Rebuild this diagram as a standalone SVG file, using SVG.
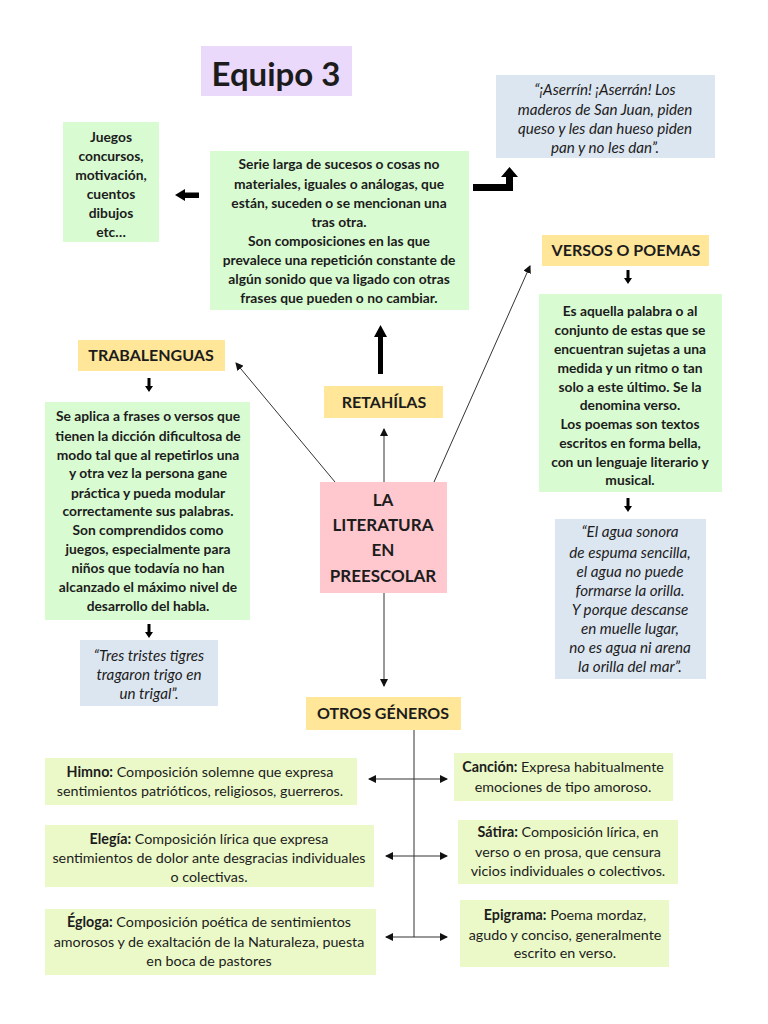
<svg xmlns="http://www.w3.org/2000/svg" width="768" height="1024" viewBox="0 0 768 1024">
<defs>
<style>
text{font-family:Lato,"Open Sans","Liberation Sans",sans-serif;fill:#1c1c1c;text-anchor:middle}
.b{font-size:13.8px;font-weight:bold}
.i{font-size:15.2px;font-style:italic}
.h{font-size:16px;font-weight:bold}
.r{font-size:14.3px}
.g{fill:#d9fbd2}
.y{fill:#ffe699}
.q{fill:#dce6f1}
.lg{fill:#ebf9c9}
.ln{stroke:#333;stroke-width:1;fill:none}
.blk{fill:#000}
</style>
<marker id="ah" markerWidth="8" markerHeight="8" refX="7" refY="4" orient="auto" markerUnits="userSpaceOnUse">
<path d="M0,0 L8,4 L0,8 z" fill="#111"/>
</marker>
<marker id="as" markerWidth="8" markerHeight="8" refX="1" refY="4" orient="auto" markerUnits="userSpaceOnUse">
<path d="M8,0 L0,4 L8,8 z" fill="#111"/>
</marker>
</defs>
<rect width="768" height="1024" fill="#fff"/>

<g id="connectors">
<line class="ln" x1="384" y1="482" x2="384" y2="429" marker-end="url(#ah)"/>
<line class="ln" x1="335" y1="482" x2="236" y2="363" marker-end="url(#ah)"/>
<line class="ln" x1="434" y1="482" x2="530" y2="266" marker-end="url(#ah)"/>
<line class="ln" x1="384" y1="593" x2="384" y2="686" marker-end="url(#ah)"/>
<line class="ln" x1="414" y1="730" x2="414" y2="937"/>
<line class="ln" x1="369" y1="779" x2="447" y2="779" marker-start="url(#as)" marker-end="url(#ah)"/>
<line class="ln" x1="386" y1="856" x2="447" y2="856" marker-start="url(#as)" marker-end="url(#ah)"/>
<line class="ln" x1="386" y1="937" x2="447" y2="937" marker-start="url(#as)" marker-end="url(#ah)"/>
<polygon class="blk" points="175,195 185,189 185,192.5 199,192.5 199,198 185,198 185,201"/>
<polygon class="blk" points="378,374 378,337 374,337 380.5,325 387,337 383,337 383,374"/>
<polygon class="blk" points="473,184 506,184 506,177 501,177 509.5,167 518,177 513,177 513,191 473,191"/>
<polygon class="blk" points="147.5,378 150.5,378 150.5,386 153,386 149,392 145,386 147.5,386"/>
<polygon class="blk" points="626.5,270 629.5,270 629.5,278 632,278 628,284 624,278 626.5,278"/>
<polygon class="blk" points="626.5,498 629.5,498 629.5,506 632,506 628,512 624,506 626.5,506"/>
<polygon class="blk" points="147.5,624 150.5,624 150.5,632 153,632 149,638 145,632 147.5,632"/>
</g>

<g id="equipo">
<rect x="201" y="46" width="151" height="50" fill="#ead9fb"/>
<text x="276" y="86" style="font-size:33px;font-weight:bold">Equipo 3</text>
</g>

<g id="aserrin">
<rect class="q" x="496" y="75" width="219" height="83"/>
<text class="i" x="605" y="95">“¡Aserrín! ¡Aserrán! Los</text>
<text class="i" x="605" y="115">maderos de San Juan, piden</text>
<text class="i" x="605" y="134">queso y les dan hueso piden</text>
<text class="i" x="605" y="153">pan y no les dan”.</text>
</g>

<g id="juegos">
<rect class="g" x="63" y="122" width="96" height="120"/>
<text class="b" x="111" y="142">Juegos</text>
<text class="b" x="111" y="161">concursos,</text>
<text class="b" x="111" y="180">motivación,</text>
<text class="b" x="111" y="199">cuentos</text>
<text class="b" x="111" y="218">dibujos</text>
<text class="b" x="111" y="237">etc…</text>
</g>

<g id="retahilas-def">
<rect class="g" x="210" y="151" width="259" height="159"/>
<text class="b" x="339" y="169">Serie larga de sucesos o cosas no</text>
<text class="b" x="339" y="189">materiales, iguales o análogas, que</text>
<text class="b" x="339" y="208">están, suceden o se mencionan una</text>
<text class="b" x="339" y="227">tras otra.</text>
<text class="b" x="339" y="246">Son composiciones en las que</text>
<text class="b" x="339" y="265">prevalece una repetición constante de</text>
<text class="b" x="339" y="284">algún sonido que va ligado con otras</text>
<text class="b" x="339" y="303">frases que pueden o no cambiar.</text>
</g>

<g id="versos">
<rect class="y" x="542" y="235" width="167" height="31"/>
<text class="h" x="626" y="256">VERSOS O POEMAS</text>
</g>

<g id="versos-def">
<rect class="g" x="539" y="294" width="183" height="198"/>
<text class="b" x="630" y="316">Es aquella palabra o al</text>
<text class="b" x="630" y="335">conjunto de estas que se</text>
<text class="b" x="630" y="354">encuentran sujetas a una</text>
<text class="b" x="630" y="373">medida y un ritmo o tan</text>
<text class="b" x="630" y="392">solo a este último. Se la</text>
<text class="b" x="630" y="410">denomina verso.</text>
<text class="b" x="630" y="429">Los poemas son textos</text>
<text class="b" x="630" y="448">escritos en forma bella,</text>
<text class="b" x="630" y="467">con un lenguaje literario y</text>
<text class="b" x="630" y="485">musical.</text>
</g>

<g id="poema">
<rect class="q" x="555" y="519" width="151" height="160"/>
<text class="i" x="630" y="537">“El agua sonora</text>
<text class="i" x="630" y="558">de espuma sencilla,</text>
<text class="i" x="630" y="577">el agua no puede</text>
<text class="i" x="630" y="596">formarse la orilla.</text>
<text class="i" x="630" y="615">Y porque descanse</text>
<text class="i" x="630" y="634">en muelle lugar,</text>
<text class="i" x="630" y="653">no es agua ni arena</text>
<text class="i" x="630" y="672">la orilla del mar”.</text>
</g>

<g id="trabalenguas">
<rect class="y" x="78" y="340" width="147" height="31"/>
<text class="h" x="151" y="361">TRABALENGUAS</text>
</g>

<g id="trabalenguas-def">
<rect class="g" x="45" y="402" width="205" height="218"/>
<text class="b" x="148" y="421">Se aplica a frases o versos que</text>
<text class="b" x="148" y="441">tienen la dicción dificultosa de</text>
<text class="b" x="148" y="460">modo tal que al repetirlos una</text>
<text class="b" x="148" y="478">y otra vez la persona gane</text>
<text class="b" x="148" y="498">práctica y pueda modular</text>
<text class="b" x="148" y="516">correctamente sus palabras.</text>
<text class="b" x="148" y="535">Son comprendidos como</text>
<text class="b" x="148" y="554">juegos, especialmente para</text>
<text class="b" x="148" y="573">niños que todavía no han</text>
<text class="b" x="148" y="592">alcanzado el máximo nivel de</text>
<text class="b" x="148" y="611">desarrollo del habla.</text>
</g>

<g id="tigres">
<rect class="q" x="80" y="640" width="138" height="66"/>
<text class="i" x="149" y="661">“Tres tristes tigres</text>
<text class="i" x="149" y="680">tragaron trigo en</text>
<text class="i" x="149" y="699">un trigal”.</text>
</g>

<g id="retahilas">
<rect class="y" x="324" y="386" width="119" height="32"/>
<text class="h" x="384" y="408">RETAHÍLAS</text>
</g>

<g id="centro">
<rect x="320" y="482" width="127" height="111" fill="#ffc7ce"/>
<text x="383" y="506" style="font-size:17px;font-weight:bold">LA</text>
<text x="383" y="531" style="font-size:17px;font-weight:bold">LITERATURA</text>
<text x="383" y="556" style="font-size:17px;font-weight:bold">EN</text>
<text x="383" y="582" style="font-size:17px;font-weight:bold">PREESCOLAR</text>
</g>

<g id="otros">
<rect class="y" x="306" y="697" width="155" height="33"/>
<text class="h" x="383" y="719">OTROS GÉNEROS</text>
</g>

<g id="himno">
<rect class="lg" x="45" y="758" width="312" height="47"/>
<text class="r" x="200" y="777"><tspan font-weight="bold">Himno:</tspan> Composición solemne que expresa</text>
<text class="r" x="200" y="796">sentimientos patrióticos, religiosos, guerreros.</text>
</g>

<g id="cancion">
<rect class="lg" x="454" y="753" width="219" height="48"/>
<text class="r" x="563" y="772"><tspan font-weight="bold">Canción:</tspan> Expresa habitualmente</text>
<text class="r" x="563" y="792">emociones de tipo amoroso.</text>
</g>

<g id="elegia">
<rect class="lg" x="45" y="825" width="329" height="62"/>
<text class="r" x="209" y="844"><tspan font-weight="bold">Elegía:</tspan> Composición lírica que expresa</text>
<text class="r" x="209" y="863">sentimientos de dolor ante desgracias individuales</text>
<text class="r" x="209" y="882">o colectivas.</text>
</g>

<g id="satira">
<rect class="lg" x="458" y="820" width="220" height="64"/>
<text class="r" x="568" y="837"><tspan font-weight="bold">Sátira:</tspan> Composición lírica, en</text>
<text class="r" x="568" y="857">verso o en prosa, que censura</text>
<text class="r" x="568" y="876">vicios individuales o colectivos.</text>
</g>

<g id="egloga">
<rect class="lg" x="45" y="909" width="331" height="66"/>
<text class="r" x="209" y="927"><tspan font-weight="bold">Égloga:</tspan> Composición poética de sentimientos</text>
<text class="r" x="209" y="947">amorosos y de exaltación de la Naturaleza, puesta</text>
<text class="r" x="209" y="966">en boca de pastores</text>
</g>

<g id="epigrama">
<rect class="lg" x="460" y="900" width="209" height="67"/>
<text class="r" x="565" y="920"><tspan font-weight="bold">Epigrama:</tspan> Poema mordaz,</text>
<text class="r" x="565" y="940">agudo y conciso, generalmente</text>
<text class="r" x="565" y="958">escrito en verso.</text>
</g>
</svg>
